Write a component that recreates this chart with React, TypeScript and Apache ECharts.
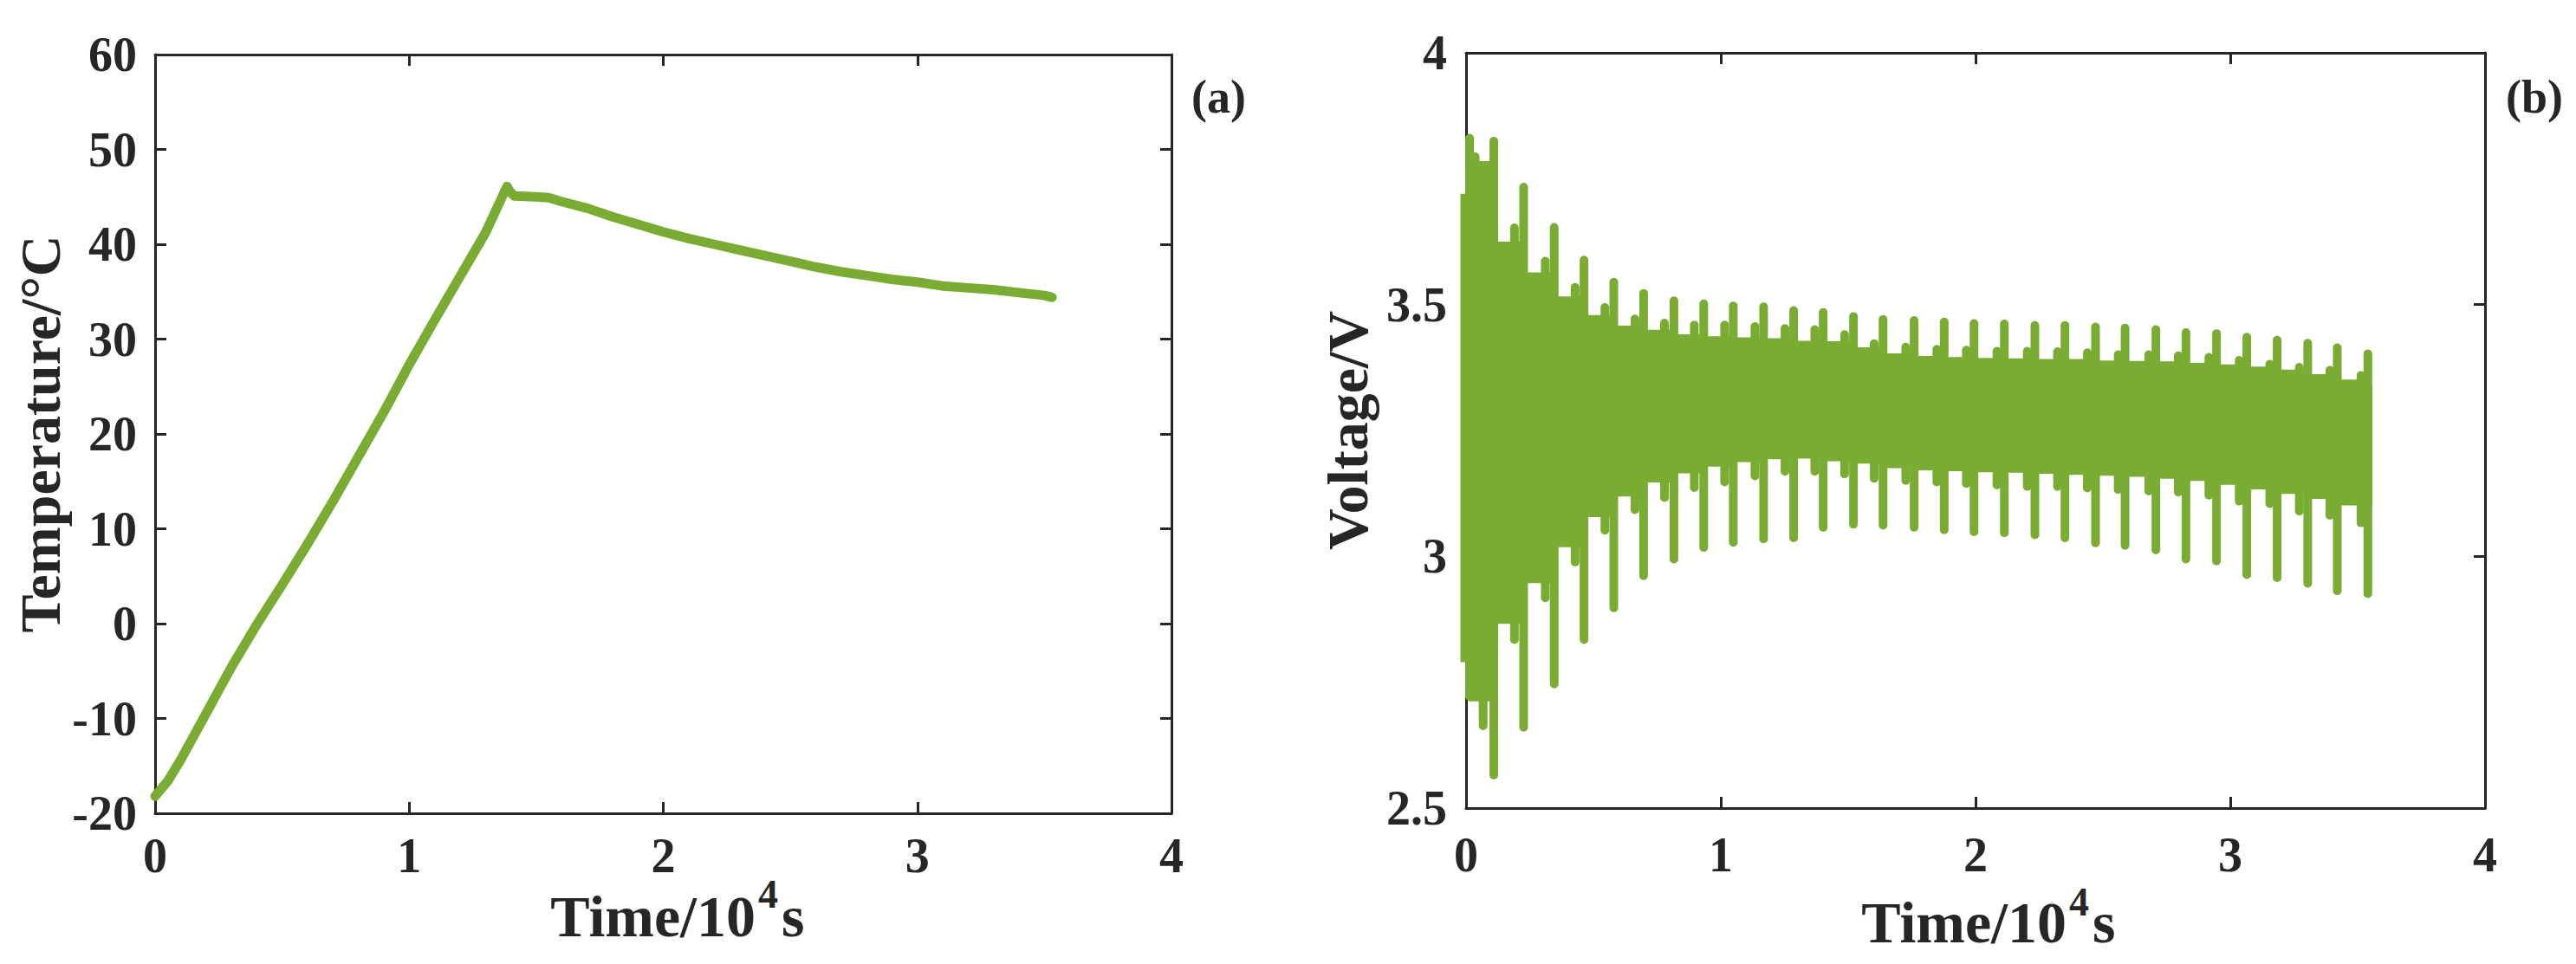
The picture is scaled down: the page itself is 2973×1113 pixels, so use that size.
import React, { useEffect, useRef } from "react";
import * as echarts from "echarts";

const GREEN = "#7aac34";
const INK = "#262626";
const FONT = "'Liberation Serif', 'Times New Roman', serif";

// ---------- tick labels ----------
const timeTicks = [0, 1, 2, 3, 4];
const tempTicks = [-20, -10, 0, 10, 20, 30, 40, 50, 60];
const voltTicks = [2.5, 3, 3.5, 4];

// ---------- (a) temperature, time in 10^4 s ----------
const tempTime = [0, 0.05, 0.1, 0.2, 0.3, 0.4, 0.5, 0.6, 0.7, 0.8, 0.9, 1.0, 1.1, 1.2, 1.3, 1.385, 1.395, 1.413, 1.5, 1.55, 1.6, 1.7, 1.8, 1.9, 2.0, 2.1, 2.2, 2.3, 2.4, 2.5, 2.6, 2.7, 2.8, 2.9, 3.0, 3.1, 3.2, 3.3, 3.4, 3.5, 3.53];
const tempValue = [-18.2, -16.6, -14.4, -9.5, -4.6, -0.1, 4.1, 8.4, 12.9, 17.6, 22.3, 27.3, 32.0, 36.6, 41.2, 46.1, 45.6, 45.1, 45.0, 44.9, 44.5, 43.8, 42.9, 42.1, 41.3, 40.6, 40.0, 39.4, 38.8, 38.2, 37.6, 37.1, 36.7, 36.3, 36.0, 35.6, 35.4, 35.2, 34.9, 34.6, 34.4];

// ---------- (b) voltage: dense oscillation band between cycle edges ----------
const bandEdgeT = [-0.02, 0.0, 0.014, 0.109, 0.226, 0.346, 0.463, 0.58, 0.697, 0.816, 0.933, 1.049, 1.168, 1.286, 1.402, 1.521, 1.637, 1.759, 1.877, 1.994, 2.113, 2.233, 2.351, 2.471, 2.587, 2.708, 2.826, 2.946, 3.065, 3.184, 3.304, 3.42, 3.54, 3.556];
const bandHigh = [3.72, 3.77, 3.785, 3.625, 3.564, 3.516, 3.479, 3.458, 3.45, 3.441, 3.437, 3.435, 3.433, 3.428, 3.427, 3.415, 3.403, 3.398, 3.396, 3.394, 3.393, 3.392, 3.392, 3.389, 3.388, 3.387, 3.384, 3.381, 3.377, 3.371, 3.362, 3.351, 3.34];
const bandLow = [2.79, 2.72, 2.712, 2.866, 2.947, 3.018, 3.078, 3.119, 3.147, 3.165, 3.178, 3.187, 3.193, 3.194, 3.189, 3.184, 3.175, 3.171, 3.169, 3.167, 3.166, 3.164, 3.162, 3.16, 3.158, 3.154, 3.15, 3.142, 3.133, 3.124, 3.114, 3.101, 3.1];

// major pulse spikes
const majorT = [0.014, 0.109, 0.226, 0.346, 0.463, 0.58, 0.697, 0.816, 0.933, 1.049, 1.168, 1.286, 1.402, 1.521, 1.637, 1.759, 1.877, 1.994, 2.113, 2.233, 2.351, 2.471, 2.587, 2.708, 2.826, 2.946, 3.065, 3.184, 3.304, 3.42, 3.54];
const majorHigh = [3.839, 3.833, 3.742, 3.662, 3.597, 3.553, 3.531, 3.516, 3.51, 3.506, 3.504, 3.497, 3.493, 3.485, 3.479, 3.477, 3.474, 3.471, 3.47, 3.467, 3.467, 3.464, 3.462, 3.459, 3.453, 3.451, 3.444, 3.438, 3.432, 3.423, 3.411];
const majorLow = [2.713, 2.557, 2.652, 2.738, 2.826, 2.889, 2.953, 2.986, 3.009, 3.019, 3.026, 3.028, 3.049, 3.055, 3.053, 3.049, 3.044, 3.04, 3.038, 3.034, 3.028, 3.018, 3.013, 3.004, 2.986, 2.982, 2.955, 2.949, 2.938, 2.923, 2.917];

// minor (shoulder) spikes just before each major spike
const minorT = [0.036, 0.067, 0.19, 0.311, 0.428, 0.545, 0.663, 0.779, 0.896, 1.015, 1.134, 1.252, 1.369, 1.486, 1.602, 1.726, 1.848, 1.964, 2.084, 2.203, 2.322, 2.439, 2.56, 2.68, 2.796, 2.916, 3.035, 3.155, 3.271, 3.391, 3.513];
const minorHigh = [3.802, 3.785, 3.661, 3.595, 3.543, 3.503, 3.48, 3.472, 3.468, 3.468, 3.465, 3.461, 3.459, 3.449, 3.431, 3.424, 3.42, 3.418, 3.416, 3.416, 3.415, 3.413, 3.409, 3.409, 3.407, 3.404, 3.398, 3.39, 3.384, 3.378, 3.368];
const minorLow = [2.715, 2.655, 2.826, 2.909, 2.98, 3.043, 3.084, 3.108, 3.128, 3.139, 3.151, 3.16, 3.16, 3.155, 3.146, 3.142, 3.139, 3.136, 3.133, 3.13, 3.13, 3.127, 3.124, 3.121, 3.119, 3.113, 3.101, 3.096, 3.081, 3.073, 3.058];

const SPIKE_W = 10;

const tickLabel = {
  fontSize: 56,
  lineHeight: 40,
  fontWeight: "bold" as const,
  fontFamily: FONT,
  color: INK,
};

function axisPair(
  kind: "x" | "y",
  gridIndex: number,
  ticks: number[],
  name: string,
  nameGap: number,
  labelMargin: number,
  nameStyle: any
) {
  const common = {
    gridIndex,
    type: "value",
    min: ticks[0],
    max: ticks[ticks.length - 1],
    interval: ticks[1] - ticks[0],
    splitLine: { show: false },
    axisLine: { show: true, onZero: false, lineStyle: { color: INK, width: 3 } },
    axisTick: { show: true, inside: true, length: 13, lineStyle: { color: INK, width: 3 } },
  };
  const main: any = {
    ...common,
    position: kind === "x" ? "bottom" : "left",
    axisLabel: { ...tickLabel, margin: labelMargin },
  };
  if (name) {
    main.name = name;
    main.nameLocation = "middle";
    main.nameGap = nameGap;
    main.nameTextStyle = nameStyle;
  }
  const mirror = {
    ...common,
    position: kind === "x" ? "top" : "right",
    axisLabel: { show: false },
  };
  return [main, mirror];
}

const yNameStyle = { fontSize: 66, fontWeight: "bold", fontFamily: FONT, color: INK };

function txt(text: string, x: number, y: number, size: number, align: string) {
  return {
    type: "text",
    x,
    y,
    style: {
      text,
      fill: INK,
      font: `bold ${size}px ${FONT}`,
      align,
      verticalAlign: "middle",
      textAlign: align,
      textVerticalAlign: "middle",
    },
  };
}

// "Time/10⁴s" built from three pieces: base text ends at xEnd
function timeTitle(xEnd: number, yMain: number, ySup: number) {
  return [
    txt("Time/10", xEnd, yMain, 68, "right"),
    txt("4", xEnd + 3, ySup, 46, "left"),
    txt("s", xEnd + 30, yMain, 68, "left"),
  ];
}

export default function App() {
  const ref = useRef<HTMLDivElement>(null);

  useEffect(() => {
    document.body.style.margin = "0";
    if (!ref.current) return;
    const chart = echarts.init(ref.current, null, { renderer: "svg" });

    const bandData = bandHigh.map((h, i) => [bandEdgeT[i], bandEdgeT[i + 1], bandLow[i], h]);
    const spikeData = [
      ...minorT.map((t, i) => [t, minorLow[i], minorHigh[i]]),
      ...majorT.map((t, i) => [t, majorLow[i], majorHigh[i]]),
    ];

    const xa = axisPair("x", 0, timeTicks, "", 0, 29, null);
    const xb = axisPair("x", 1, timeTicks, "", 0, 34, null);
    const ya = axisPair("y", 0, tempTicks, "Temperature/°C", 99, 21, yNameStyle);
    const yb = axisPair("y", 1, voltTicks, "Voltage/V", 104, 22, yNameStyle);

    chart.setOption({
      animation: false,
      backgroundColor: "#ffffff",
      grid: [
        { left: 179, top: 63, width: 1173, height: 876 },
        { left: 1692, top: 61, width: 1176, height: 872 },
      ],
      xAxis: [...xa, ...xb],
      yAxis: [...ya, ...yb],
      graphic: [
        ...timeTitle(872, 1058, 1032),
        ...timeTitle(2385, 1065, 1041),
        txt("(a)", 1375, 112, 54, "left"),
        txt("(b)", 2892, 112, 54, "left"),
      ],
      series: [
        {
          type: "line",
          xAxisIndex: 0,
          yAxisIndex: 0,
          data: tempTime.map((t, i) => [t, tempValue[i]]),
          showSymbol: false,
          symbol: "none",
          lineStyle: { color: GREEN, width: 11, cap: "round", join: "round" },
          z: 3,
        },
        {
          type: "custom",
          xAxisIndex: 2,
          yAxisIndex: 2,
          clip: false,
          data: bandData,
          encode: { x: [0, 1], y: [2, 3] },
          renderItem: (params: any, api: any) => {
            const p0 = api.coord([api.value(0), api.value(3)]);
            const p1 = api.coord([api.value(1), api.value(2)]);
            return {
              type: "rect",
              shape: { x: p0[0] - 0.6, y: p0[1], width: p1[0] - p0[0] + 1.2, height: p1[1] - p0[1] },
              style: { fill: GREEN },
            };
          },
          z: 3,
        },
        {
          type: "custom",
          xAxisIndex: 2,
          yAxisIndex: 2,
          clip: false,
          data: spikeData,
          encode: { x: 0, y: [1, 2] },
          renderItem: (params: any, api: any) => {
            const top = api.coord([api.value(0), api.value(2)]);
            const bot = api.coord([api.value(0), api.value(1)]);
            return {
              type: "rect",
              shape: {
                x: top[0] - SPIKE_W / 2,
                y: top[1],
                width: SPIKE_W,
                height: bot[1] - top[1],
                r: SPIKE_W / 2,
              },
              style: { fill: GREEN },
            };
          },
          z: 4,
        },
      ],
    });

    return () => chart.dispose();
  }, []);

  return <div ref={ref} style={{ width: 2973, height: 1113 }} />;
}
